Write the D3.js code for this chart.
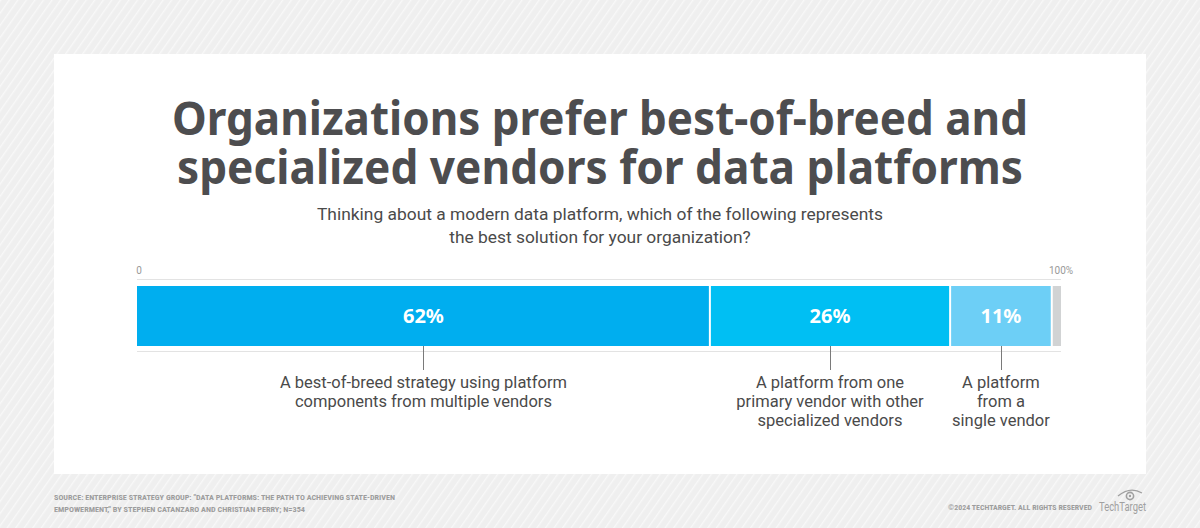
<!DOCTYPE html>
<html>
<head>
<meta charset="utf-8">
<script src="https://cdn.jsdelivr.net/npm/d3@7"></script>
<style>
  html, body { margin: 0; padding: 0; background: #fff; }
  svg { display: block; }
</style>
</head>
<body>
<svg id="chart"></svg>
<script>
// ── Data ──────────────────────────────────────────────
const categories = [
  'A best-of-breed strategy using platform components from multiple vendors',
  'A platform from one primary vendor with other specialized vendors',
  'A platform from a single vendor',
  'Other'
];
const values = [62, 26, 11, 1];
const labelLines = [
  ['A best-of-breed strategy using platform', 'components from multiple vendors'],
  ['A platform from one', 'primary vendor with other', 'specialized vendors'],
  ['A platform', 'from a', 'single vendor'],
  []
];
const segColors = ['#00aeef', '#00bff3', '#6dcff6', '#d1d3d4'];
const axisTicks = [0, 100];

const W = 1200, H = 528;
const svg = d3.select('#chart').attr('width', W).attr('height', H);

// ── Background stripes + panel ───────────────────────
const defs = svg.append('defs');
const pat = defs.append('pattern').attr('id', 'stripes')
  .attr('patternUnits', 'userSpaceOnUse').attr('width', 7).attr('height', 7)
  .attr('patternTransform', 'rotate(35)');
pat.append('rect').attr('width', 7).attr('height', 7).attr('fill', '#efefef');
pat.append('rect').attr('width', 1.4).attr('height', 7).attr('fill', '#f8f8f8');
svg.append('rect').attr('width', W).attr('height', H).attr('fill', 'url(#stripes)');
svg.append('rect').attr('x', 54).attr('y', 54).attr('width', 1092).attr('height', 420).attr('fill', '#fff');

// ── Title ─────────────────────────────────────────────
const titleFont = "'Noto Sans', 'Open Sans', sans-serif";
const title = [
  { t: 'Organizations prefer best-of-breed and', y: 135, w: 856 },
  { t: 'specialized vendors for data platforms', y: 184, w: 846 }
];
title.forEach(l => {
  svg.append('text')
    .attr('x', 600).attr('y', l.y)
    .attr('text-anchor', 'middle')
    .attr('font-family', titleFont).attr('font-weight', 700)
    .attr('font-size', 46).attr('fill', '#4d4d4f')
    .attr('textLength', l.w).attr('lengthAdjust', 'spacingAndGlyphs')
    .text(l.t);
});

// subtitle: fit line 1 to the reference width, scale line 2 by the same factor
const subtitle = [
  'Thinking about a modern data platform, which of the following represents',
  'the best solution for your organization?'
];
const subEls = subtitle.map((s, i) => svg.append('text')
  .attr('x', 600).attr('y', 220 + i * 23)
  .attr('text-anchor', 'middle')
  .attr('font-family', "'Roboto', 'Noto Sans', sans-serif")
  .attr('font-size', 17).attr('fill', '#4a4a4a')
  .text(s));
const k = 566 / subEls[0].node().getComputedTextLength();
subEls.forEach(el => {
  el.attr('textLength', el.node().getComputedTextLength() * k)
    .attr('lengthAdjust', 'spacingAndGlyphs');
});

// ── Scale ─────────────────────────────────────────────
const x = d3.scaleLinear().domain([0, 100]).range([137, 1061]);
const barTop = 286, barH = 60;

// rules above / below
[279.5, 351.5].forEach(y => {
  svg.append('line').attr('x1', x(0)).attr('x2', x(100))
    .attr('y1', y).attr('y2', y)
    .attr('stroke', '#e3e3e3').attr('stroke-width', 1.2);
});

// axis end labels
svg.selectAll('.tick-label').data(axisTicks).join('text')
  .attr('class', 'tick-label')
  .attr('x', d => x(d) + (d === 0 ? 2 : 0)).attr('y', 274)
  .attr('text-anchor', 'middle')
  .attr('font-family', "'Roboto', sans-serif").attr('font-size', 10)
  .attr('fill', '#999')
  .text(d => d === 0 ? '0' : d + '%');

// ── Segments ─────────────────────────────────────────
const cum = d3.cumsum(values);
const segs = values.map((v, i) => ({ v, i, start: cum[i] - v, end: cum[i] }));

svg.selectAll('.seg').data(segs).join('rect')
  .attr('class', 'seg')
  .attr('x', d => x(d.start) + (d.i === 0 ? 0 : 1))
  .attr('y', barTop)
  .attr('width', d => x(d.end) - x(d.start) - (d.i === 0 ? 0 : 1) - (d.i < segs.length - 1 ? 1 : 0))
  .attr('height', barH)
  .attr('fill', d => segColors[d.i]);

svg.selectAll('.seg-label').data(segs.filter(d => d.v > 5)).join('text')
  .attr('class', 'seg-label')
  .attr('x', d => x((d.start + d.end) / 2)).attr('y', barTop + barH / 2 + 7)
  .attr('text-anchor', 'middle')
  .attr('font-family', titleFont).attr('font-weight', 700)
  .attr('font-size', 20).attr('fill', '#fff')
  .text(d => d.v + '%');

// ── Leader lines + labels ────────────────────────────
const labeled = segs.filter(d => labelLines[d.i].length);
svg.selectAll('.leader').data(labeled).join('line')
  .attr('class', 'leader')
  .attr('x1', d => Math.round(x((d.start + d.end) / 2)) + 0.5)
  .attr('x2', d => Math.round(x((d.start + d.end) / 2)) + 0.5)
  .attr('y1', barTop + barH).attr('y2', 370)
  .attr('stroke', '#7a7a7a').attr('stroke-width', 1);

labeled.forEach(d => {
  const cx = x((d.start + d.end) / 2);
  const t = svg.append('text')
    .attr('text-anchor', 'middle')
    .attr('font-family', "'Roboto', 'Noto Sans', sans-serif")
    .attr('font-size', 16.5).attr('fill', '#4a4a4a');
  labelLines[d.i].forEach((line, li) => {
    t.append('tspan').attr('x', cx).attr('y', 388 + li * 19).text(line);
  });
});

// ── Footer ───────────────────────────────────────────
const footFont = "'Roboto Condensed', 'Liberation Sans Narrow', 'Roboto', sans-serif";
const source = [
  'SOURCE: ENTERPRISE STRATEGY GROUP: "DATA PLATFORMS: THE PATH TO ACHIEVING STATE-DRIVEN',
  'EMPOWERMENT," BY STEPHEN CATANZARO AND CHRISTIAN PERRY; N=354'
];
const srcW = [341, 251];
source.forEach((s, i) => {
  svg.append('text')
    .attr('x', 54).attr('y', 500 + i * 12)
    .attr('font-family', footFont).attr('font-weight', 700)
    .attr('font-size', 7.5).attr('fill', '#9d9d9d')
    .attr('textLength', srcW[i]).attr('lengthAdjust', 'spacingAndGlyphs')
    .text(s);
});

svg.append('text')
  .attr('x', 948).attr('y', 510)
  .attr('font-family', footFont).attr('font-weight', 700)
  .attr('font-size', 7.5).attr('fill', '#9d9d9d')
  .attr('textLength', 144).attr('lengthAdjust', 'spacingAndGlyphs')
  .text('©2024 TECHTARGET. ALL RIGHTS RESERVED');

svg.append('text')
  .attr('x', 1099).attr('y', 511)
  .attr('font-family', "'Roboto', sans-serif")
  .attr('font-size', 12).attr('fill', '#a0a0a0')
  .attr('textLength', 47).attr('lengthAdjust', 'spacingAndGlyphs')
  .text('TechTarget');

// eye mark
const eye = svg.append('g').attr('fill', 'none').attr('stroke', '#a0a0a0');
eye.append('path').attr('d', 'M1118,496 Q1130,486 1142,493').attr('stroke-width', 1.3);
eye.append('circle').attr('cx', 1130).attr('cy', 496).attr('r', 3.6).attr('stroke-width', 1.6);
eye.append('circle').attr('cx', 1130).attr('cy', 496).attr('r', 1.2).attr('fill', '#a0a0a0').attr('stroke', 'none');
</script>
</body>
</html>
